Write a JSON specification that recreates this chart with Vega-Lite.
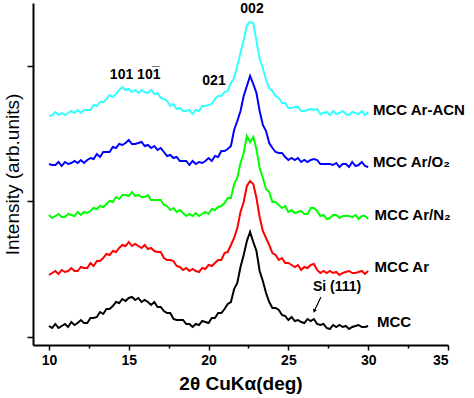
{
  "$schema": "https://vega.github.io/schema/vega-lite/v6.json",
  "width": 415,
  "height": 342,
  "autosize": "none",
  "padding": {"left": 33, "top": 3, "right": 26, "bottom": 53},
  "background": "white",
  "config": {
    "view": {"stroke": null},
    "font": "Liberation Sans",
    "axis": {"grid": false, "domainColor": "black", "domainWidth": 2, "tickColor": "black", "tickWidth": 1.5, "labelFont": "Liberation Sans", "titleFont": "Liberation Sans", "labelColor": "black", "titleColor": "black"}
  },
  "datasets": {
    "xrd": [
      {"x":10,"a":19,"b":70,"c":130,"d":181,"e":229},
      {"x":10.2,"a":17,"b":72,"c":127,"d":180,"e":230},
      {"x":10.4,"a":21,"b":74,"c":129,"d":180,"e":233},
      {"x":10.6,"a":17,"b":71,"c":131,"d":183,"e":230},
      {"x":10.8,"a":19,"b":75,"c":128,"d":179,"e":232},
      {"x":11,"a":21,"b":73,"c":128,"d":183,"e":230},
      {"x":11.2,"a":18,"b":74,"c":131,"d":181,"e":232},
      {"x":11.4,"a":23,"b":77,"c":130,"d":182,"e":234},
      {"x":11.6,"a":20,"b":74,"c":129,"d":184,"e":232},
      {"x":11.8,"a":22,"b":74,"c":133,"d":182,"e":235},
      {"x":12,"a":25,"b":78,"c":130,"d":185,"e":232},
      {"x":12.2,"a":22,"b":77,"c":133,"d":182,"e":235},
      {"x":12.4,"a":22,"b":77,"c":132,"d":185,"e":235},
      {"x":12.6,"a":27,"b":82,"c":134,"d":187,"e":235},
      {"x":12.8,"a":27,"b":79,"c":137,"d":186,"e":240},
      {"x":13,"a":28,"b":84,"c":136,"d":191,"e":239},
      {"x":13.2,"a":33,"b":84,"c":139,"d":188,"e":243},
      {"x":13.4,"a":31,"b":87,"c":138,"d":193,"e":243},
      {"x":13.6,"a":36,"b":91,"c":141,"d":193,"e":246},
      {"x":13.8,"a":36,"b":90,"c":144,"d":193,"e":250},
      {"x":14,"a":39,"b":94,"c":143,"d":198,"e":248},
      {"x":14.2,"a":43,"b":93,"c":148,"d":197,"e":251},
      {"x":14.4,"a":42,"b":97,"c":146,"d":201,"e":255},
      {"x":14.6,"a":46,"b":100,"c":150,"d":200,"e":258},
      {"x":14.8,"a":44,"b":99,"c":150,"d":202,"e":255},
      {"x":15,"a":47,"b":103,"c":149,"d":205,"e":256},
      {"x":15.2,"a":48,"b":99,"c":153,"d":201,"e":253},
      {"x":15.4,"a":45,"b":101,"c":149,"d":201,"e":255},
      {"x":15.6,"a":47,"b":99,"c":150,"d":202,"e":252},
      {"x":15.8,"a":43,"b":97,"c":148,"d":203,"e":255},
      {"x":16,"a":45,"b":100,"c":148,"d":199,"e":253},
      {"x":16.2,"a":43,"b":96,"c":150,"d":200,"e":252},
      {"x":16.4,"a":40,"b":97,"c":145,"d":197,"e":255},
      {"x":16.6,"a":43,"b":94,"c":145,"d":199,"e":251},
      {"x":16.8,"a":38,"b":93,"c":145,"d":195,"e":252},
      {"x":17,"a":38,"b":93,"c":145,"d":197,"e":247},
      {"x":17.2,"a":34,"b":87,"c":140,"d":193,"e":246},
      {"x":17.4,"a":32,"b":85,"c":139,"d":189,"e":244},
      {"x":17.6,"a":32,"b":85,"c":135,"d":190,"e":239},
      {"x":17.8,"a":26,"b":84,"c":137,"d":187,"e":241},
      {"x":18,"a":25,"b":79,"c":133,"d":188,"e":236},
      {"x":18.2,"a":25,"b":78,"c":135,"d":184,"e":237},
      {"x":18.4,"a":25,"b":75,"c":132,"d":184,"e":234},
      {"x":18.6,"a":21,"b":77,"c":129,"d":184,"e":234},
      {"x":18.8,"a":21,"b":74,"c":131,"d":180,"e":235},
      {"x":19,"a":18,"b":76,"c":129,"d":184,"e":231},
      {"x":19.2,"a":21,"b":74,"c":132,"d":181,"e":235},
      {"x":19.4,"a":20,"b":73,"c":129,"d":183,"e":234},
      {"x":19.6,"a":24,"b":77,"c":131,"d":182,"e":239},
      {"x":19.8,"a":23,"b":76,"c":133,"d":184,"e":239},
      {"x":20,"a":22,"b":80,"c":131,"d":187,"e":240},
      {"x":20.2,"a":27,"b":79,"c":136,"d":184,"e":241},
      {"x":20.4,"a":27,"b":82,"c":135,"d":189,"e":246},
      {"x":20.6,"a":32,"b":85,"c":138,"d":188,"e":249},
      {"x":20.8,"a":32,"b":85,"c":139,"d":194,"e":249},
      {"x":21,"a":36,"b":92,"c":142,"d":194,"e":253},
      {"x":21.2,"a":41,"b":93,"c":147,"d":196,"e":254},
      {"x":21.4,"a":43,"b":100,"c":147,"d":199,"e":262},
      {"x":21.6,"a":56,"b":107,"c":161,"d":215,"e":267},
      {"x":21.8,"a":62,"b":117,"c":167,"d":224,"e":279},
      {"x":22,"a":78,"b":133,"c":182,"d":234,"e":292},
      {"x":22.2,"a":90,"b":143,"c":192,"d":249,"e":305},
      {"x":22.4,"a":104,"b":159,"c":209,"d":259,"e":320},
      {"x":22.6,"a":113,"b":164,"c":203,"d":269,"e":323},
      {"x":22.8,"a":103,"b":161,"c":208,"d":261,"e":322},
      {"x":23,"a":94,"b":147,"c":196,"d":252,"e":304},
      {"x":23.2,"a":74,"b":128,"c":177,"d":234,"e":286},
      {"x":23.4,"a":64,"b":114,"c":167,"d":220,"e":277},
      {"x":23.6,"a":52,"b":107,"c":156,"d":214,"e":265},
      {"x":23.8,"a":43,"b":100,"c":153,"d":202,"e":257},
      {"x":24,"a":37,"b":92,"c":143,"d":197,"e":254},
      {"x":24.2,"a":37,"b":90,"c":143,"d":193,"e":249},
      {"x":24.4,"a":35,"b":85,"c":140,"d":192,"e":247},
      {"x":24.6,"a":30,"b":87,"c":137,"d":192,"e":242},
      {"x":24.8,"a":29,"b":82,"c":139,"d":188,"e":242},
      {"x":25,"a":25,"b":82,"c":133,"d":185,"e":237},
      {"x":25.2,"a":28,"b":80,"c":135,"d":187,"e":237},
      {"x":25.4,"a":24,"b":78,"c":132,"d":185,"e":238},
      {"x":25.6,"a":25,"b":80,"c":133,"d":187,"e":238},
      {"x":25.8,"a":23,"b":75,"c":134,"d":183,"e":234},
      {"x":26,"a":22,"b":78,"c":131,"d":185,"e":234},
      {"x":26.2,"a":26,"b":77,"c":131,"d":183,"e":235},
      {"x":26.4,"a":24,"b":80,"c":137,"d":185,"e":236},
      {"x":26.6,"a":26,"b":81,"c":137,"d":186,"e":235},
      {"x":26.8,"a":21,"b":75,"c":134,"d":185,"e":236},
      {"x":27,"a":20,"b":72,"c":129,"d":181,"e":231},
      {"x":27.2,"a":21,"b":74,"c":130,"d":181,"e":232},
      {"x":27.4,"a":17,"b":72,"c":126,"d":181,"e":233},
      {"x":27.6,"a":16,"b":74,"c":127,"d":181,"e":230},
      {"x":27.8,"a":20,"b":72,"c":130,"d":180,"e":234},
      {"x":28,"a":18,"b":73,"c":130,"d":182,"e":231},
      {"x":28.2,"a":20,"b":70,"c":127,"d":178,"e":232},
      {"x":28.4,"a":18,"b":72,"c":129,"d":181,"e":234},
      {"x":28.6,"a":19,"b":73,"c":129,"d":181,"e":231},
      {"x":28.8,"a":16,"b":74,"c":129,"d":178,"e":230},
      {"x":29,"a":18,"b":72,"c":128,"d":183,"e":233},
      {"x":29.2,"a":19,"b":72,"c":130,"d":179,"e":232},
      {"x":29.4,"a":20,"b":73,"c":126,"d":180,"e":231},
      {"x":29.6,"a":18,"b":74,"c":129,"d":183,"e":234},
      {"x":29.8,"a":18,"b":71,"c":129,"d":179,"e":230},
      {"x":30,"a":19,"b":74,"c":126,"d":178,"e":233}
    ],
    "labels": [
      {"x":30.3,"y":235,"t":"MCC Ar-ACN"},
      {"x":30.3,"y":183,"t":"MCC Ar/O₂"},
      {"x":30.4,"y":130,"t":"MCC Ar/N₂"},
      {"x":30.4,"y":78,"t":"MCC Ar"},
      {"x":30.55,"y":23,"t":"MCC"}
    ],
    "peaks": [
      {"x":15.4,"y":270,"t":"101 101"},
      {"x":16.7,"y":272,"t":"¯"},
      {"x":20.34,"y":264,"t":"021"},
      {"x":22.72,"y":336,"t":"002"},
      {"x":28.05,"y":58,"t":"Si (111)"}
    ],
    "arrow": [{"x":27.04,"y":48,"x2":26.62,"y2":34}]
  },
  "layer": [
    {
      "data": {"name": "xrd"},
      "transform": [{"fold": ["a","b","c","d","e"], "as": ["s","v"]}],
      "mark": {"type": "line", "strokeWidth": 2, "interpolate": "linear"},
      "encoding": {
        "x": {"field": "x", "type": "quantitative", "scale": {"domain": [9,35], "nice": false, "zero": false},
          "axis": {"values": [10,12.5,15,17.5,20,22.5,25,27.5,30,32.5,35], "labelExpr": "datum.value % 5 === 0 ? datum.label : ''", "format": "d", "labelFontSize": 14, "labelFontWeight": "bold",
            "tickSize": {"condition": {"test": "datum.value % 5 === 0", "value": 5}, "value": 3},
            "labelPadding": 3, "title": "2θ CuKα(deg)", "titleFontSize": 19, "titleFontWeight": "bold", "titlePadding": 7}},
        "y": {"field": "v", "type": "quantitative", "scale": {"domain": [0,342], "nice": false, "zero": false},
          "axis": {"values": [8,144,279], "labels": false, "tickSize": 6, "title": "Intensity (arb.units)", "titleFontSize": 19, "titleFontWeight": "normal", "titlePadding": 4}},
        "color": {"field": "s", "type": "nominal", "legend": null,
          "scale": {"domain": ["a","b","c","d","e"], "range": ["#000000","#ff0000","#00ff00","#0000ff","#33ffff"]}}
      }
    },
    {
      "data": {"name": "labels"},
      "mark": {"type": "text", "align": "left", "baseline": "middle", "fontSize": 15, "fontWeight": "bold", "color": "black"},
      "encoding": {"x": {"field": "x", "type": "quantitative"}, "y": {"field": "y", "type": "quantitative"}, "text": {"field": "t"}}
    },
    {
      "data": {"name": "peaks"},
      "mark": {"type": "text", "align": "center", "baseline": "middle", "fontSize": 14, "fontWeight": "bold", "color": "black"},
      "encoding": {"x": {"field": "x", "type": "quantitative"}, "y": {"field": "y", "type": "quantitative"}, "text": {"field": "t"}}
    },
    {
      "data": {"name": "arrow"},
      "mark": {"type": "rule", "color": "black", "strokeWidth": 1.2},
      "encoding": {"x": {"field": "x", "type": "quantitative"}, "y": {"field": "y", "type": "quantitative"}, "x2": {"field": "x2"}, "y2": {"field": "y2"}}
    },
    {
      "data": {"name": "arrow"},
      "mark": {"type": "point", "shape": "triangle-down", "filled": true, "color": "black", "size": 18, "angle": 25, "opacity": 1},
      "encoding": {"x": {"field": "x2", "type": "quantitative"}, "y": {"field": "y2", "type": "quantitative"}}
    }
  ]
}
